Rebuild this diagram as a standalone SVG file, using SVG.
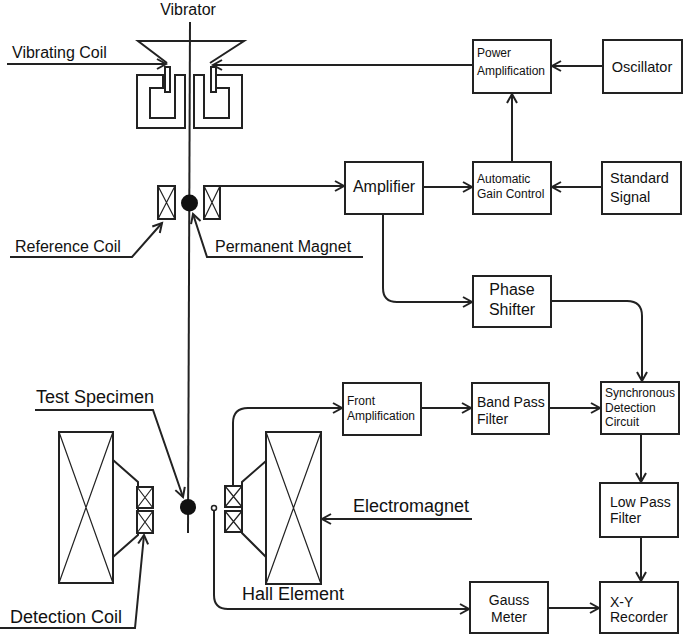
<svg xmlns="http://www.w3.org/2000/svg" width="685" height="637" viewBox="0 0 685 637">
<defs>
<style>
.box{fill:#fff;stroke:#222;stroke-width:2}
.ln{fill:none;stroke:#222;stroke-width:2}
.thin{fill:none;stroke:#222;stroke-width:1.2}
.arr{fill:none;stroke:#222;stroke-width:2;marker-end:url(#ah)}
text{font-family:"Liberation Sans",Arial,sans-serif;fill:#111}
.t16{font-size:16px}
.t18{font-size:18px}
.t14{font-size:14px}
.t145{font-size:14.5px}
.t12{font-size:12px}
</style>
<marker id="ah" markerUnits="userSpaceOnUse" markerWidth="14" markerHeight="14" refX="10" refY="6" orient="auto">
<path d="M1,1 L10,6 L1,11" fill="none" stroke="#222" stroke-width="2"/>
</marker>
</defs>
<rect width="685" height="637" fill="#fff"/>

<g id="vibrator">
<text class="t16" x="188" y="15" text-anchor="middle">Vibrator</text>
<line class="ln" x1="190" y1="22" x2="188" y2="533"/>
<path class="ln" d="M167,63 L138,41 H244 L210,63"/>
<path class="ln" d="M137,75 H163 V88 H150 V118 H175 V75 H185 V128 H137 Z"/>
<path class="ln" d="M242,75 H216 V88 H229 V118 H204 V75 H194 V128 H242 Z"/>
<rect class="box" x="165" y="67" width="5" height="25" stroke-width="1.5"/>
<rect class="box" x="211" y="67" width="5" height="25" stroke-width="1.5"/>
<text class="t16" x="12" y="58">Vibrating Coil</text>
</g>

<g id="reference-coil">
<rect class="box" x="158" y="186" width="17" height="33"/>
<path class="thin" d="M158,186 L175,219 M175,186 L158,219"/>
<rect class="box" x="204" y="186" width="16" height="33"/>
<path class="thin" d="M204,186 L220,219 M220,186 L204,219"/>
<text class="t16" x="15" y="252">Reference Coil</text>
</g>

<g id="permanent-magnet">
<circle cx="189.5" cy="203" r="8.5" fill="#111"/>
<text class="t16" x="215" y="252">Permanent Magnet</text>
</g>

<g id="test-specimen">
<circle cx="188" cy="507" r="8" fill="#111"/>
<text class="t18" x="36" y="403">Test Specimen</text>
</g>

<g id="detection-electromagnet">
<rect class="box" x="59" y="432" width="54" height="151"/>
<path class="thin" d="M59,432 L113,583 M113,432 L59,583"/>
<path class="ln" d="M113,460 L138,482 V535 L113,557"/>
<rect class="box" x="137" y="487" width="16" height="21"/>
<path class="thin" d="M137,487 L153,508 M153,487 L137,508"/>
<rect class="box" x="137" y="511" width="16" height="22"/>
<path class="thin" d="M137,511 L153,533 M153,511 L137,533"/>
<text class="t18" x="10" y="623">Detection Coil</text>
</g>

<g id="electromagnet">
<rect class="box" x="266" y="432" width="55" height="152"/>
<path class="thin" d="M266,432 L321,584 M321,432 L266,584"/>
<path class="ln" d="M266,461 L242,482 V533 L266,557"/>
<rect class="box" x="225" y="486" width="17" height="21"/>
<path class="thin" d="M225,486 L242,507 M242,486 L225,507"/>
<rect class="box" x="225" y="511" width="17" height="21"/>
<path class="thin" d="M225,511 L242,532 M242,511 L225,532"/>
<text class="t18" x="353" y="512">Electromagnet</text>
</g>

<g id="hall-element">
<circle cx="214" cy="508" r="2.5" fill="#fff" stroke="#222" stroke-width="1.5"/>
<text class="t18" x="242" y="600">Hall Element</text>
</g>

<g id="power-amplification">
<rect class="box" x="473" y="40" width="78" height="53"/>
<text class="t12" x="477" y="57">Power</text>
<text class="t12" x="477" y="75">Amplification</text>
</g>
<g id="oscillator">
<rect class="box" x="603" y="40" width="79" height="53"/>
<text class="t145" x="642" y="72" text-anchor="middle">Oscillator</text>
</g>
<g id="amplifier">
<rect class="box" x="345" y="162" width="78" height="52"/>
<text class="t16" x="384" y="192" text-anchor="middle">Amplifier</text>
</g>
<g id="agc">
<rect class="box" x="473" y="162" width="78" height="52"/>
<text class="t12" x="477" y="183">Automatic</text>
<text class="t12" x="477" y="198">Gain Control</text>
</g>
<g id="standard-signal">
<rect class="box" x="602" y="162" width="79" height="52"/>
<text class="t145" x="610" y="183">Standard</text>
<text class="t145" x="610" y="202">Signal</text>
</g>
<g id="phase-shifter">
<rect class="box" x="473" y="276" width="78" height="51"/>
<text class="t16" x="512" y="295" text-anchor="middle">Phase</text>
<text class="t16" x="512" y="315" text-anchor="middle">Shifter</text>
</g>
<g id="front-amplification">
<rect class="box" x="343" y="383" width="78" height="52"/>
<text class="t12" x="347" y="405">Front</text>
<text class="t12" x="347" y="420">Amplification</text>
</g>
<g id="band-pass-filter">
<rect class="box" x="472" y="383" width="77" height="51"/>
<text class="t14" x="477" y="407">Band Pass</text>
<text class="t14" x="477" y="424">Filter</text>
</g>
<g id="synchronous-detection">
<rect class="box" x="601" y="382" width="78" height="52"/>
<text class="t12" x="605" y="397">Synchronous</text>
<text class="t12" x="605" y="412">Detection</text>
<text class="t12" x="605" y="426">Circuit</text>
</g>
<g id="low-pass-filter">
<rect class="box" x="600" y="483" width="78" height="54"/>
<text class="t14" x="610" y="507">Low Pass</text>
<text class="t14" x="610" y="523">Filter</text>
</g>
<g id="gauss-meter">
<rect class="box" x="470" y="582" width="78" height="51"/>
<text class="t14" x="509" y="605" text-anchor="middle">Gauss</text>
<text class="t14" x="509" y="622" text-anchor="middle">Meter</text>
</g>
<g id="xy-recorder">
<rect class="box" x="600" y="582" width="78" height="51"/>
<text class="t14" x="610" y="607">X-Y</text>
<text class="t14" x="610" y="622">Recorder</text>
</g>

<g id="connectors">
<path class="arr" d="M7,64 H166"/>
<path class="arr" d="M473,65 H213"/>
<path class="arr" d="M603,66 H552"/>
<path class="arr" d="M512,162 V94"/>
<path class="arr" d="M220,186 H344"/>
<path class="arr" d="M423,187 H472"/>
<path class="arr" d="M602,187 H552"/>
<path class="arr" d="M383,214 V288 Q383,302 397,302 H472"/>
<path class="arr" d="M551,301 H627 Q642,301 642,316 V381"/>
<path class="arr" d="M233,486 V423 Q233,408 248,408 H342"/>
<path class="arr" d="M421,408 H471"/>
<path class="arr" d="M549,408 H600"/>
<path class="arr" d="M641,434 V482"/>
<path class="arr" d="M641,537 V581"/>
<path class="arr" d="M214,510 V595 Q214,609 228,609 H469"/>
<path class="arr" d="M548,608 H599"/>
<path class="arr" d="M472,519 H322"/>
<path class="arr" d="M10,257 H132 L162,223"/>
<path class="arr" d="M363,257 H207 L193,214"/>
<path class="arr" d="M35,410 H153 L183,497"/>
<path class="arr" d="M0,628 H135 L144,535"/>
</g>
</svg>
